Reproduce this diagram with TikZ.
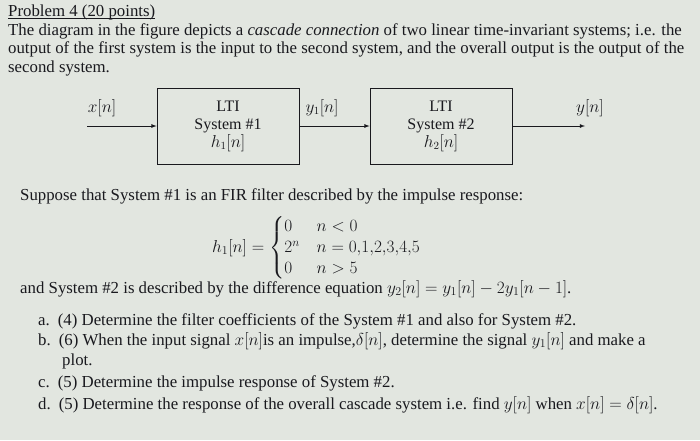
\documentclass[tikz,border=0pt]{standalone}
\usepackage{fontspec}
\setmainfont{Liberation Serif}
\usepackage{amsmath}
\definecolor{paper}{RGB}{226,230,224}
\definecolor{ink}{RGB}{25,25,30}
\begin{document}
\begin{tikzpicture}[x=1pt,y=-1pt,
  txt/.style={anchor=base west,inner sep=0,text=ink,font=\fontsize{16.8}{19}\selectfont},
  sys/.style={draw=ink,thick,minimum width=142pt,minimum height=76pt,align=center,text=ink,font=\fontsize{16}{18}\selectfont},
  sig/.style={text=ink,font=\fontsize{16}{18}\selectfont,inner sep=0},
  arr/.style={draw=ink,thick,-latex}]
\fill[paper] (0,0) rectangle (700,440);
\useasboundingbox (0,0) rectangle (700,440);
\node[txt] (t0) at (8,16) {Problem 4 (20 points)};
\draw[ink,thin] ([yshift=-2pt]t0.base west) -- ([yshift=-2pt]t0.base east);
\node[txt] (t1) at (8,35) {The diagram in the figure depicts a \textit{cascade connection} of two linear time-invariant systems; i.e. the};
\node[txt] (t2) at (8,53) {output of the first system is the input to the second system, and the overall output is the output of the};
\node[txt] (t3) at (8,72) {second system.};
\node[sys] (s1) at (228,126) {LTI\\System \#1\\$h_1[n]$};
\node[sys] (s2) at (441,126) {LTI\\System \#2\\$h_2[n]$};
\coordinate (in) at (87,126);
\coordinate (out) at (585,126);
\draw[arr] (in) -- (s1.west);
\draw[arr] (s1.east) -- (s2.west);
\draw[arr] (s2.east) -- (out);
\node[sig] (lx) at (102,108) {$x[n]$};
\node[sig] (ly1) at (322,108) {$y_1[n]$};
\node[sig] (ly) at (590,108) {$y[n]$};
\node[txt] (t4) at (20,200) {Suppose that System \#1 is an FIR filter described by the impulse response:};
\node[txt,anchor=west] (eq) at (212,248) {$h_1[n]=\begin{cases}0 & n<0\\[-2pt] 2^n & n=0{,}1{,}2{,}3{,}4{,}5\\[-2pt] 0 & n>5\end{cases}$};
\node[txt] (t5) at (20,293) {and System \#2 is described by the difference equation $y_2[n]=y_1[n]-2y_1[n-1]$.};
\node[txt] (a) at (38,325) {a.\hspace{8pt}(4) Determine the filter coefficients of the System \#1 and also for System \#2.};
\node[txt] (b) at (38,345) {b.\hspace{8pt}(6) When the input signal $x[n]$is an impulse,$\delta[n]$, determine the signal $y_1[n]$ and make a};
\node[txt] (b2) at (62,365) {plot.};
\node[txt] (c) at (38,387) {c.\hspace{8pt}(5) Determine the impulse response of System \#2.};
\node[txt] (d) at (38,409) {d.\hspace{8pt}(5) Determine the response of the overall cascade system i.e. find $y[n]$ when $x[n]=\delta[n]$.};
\end{tikzpicture}
\end{document}
